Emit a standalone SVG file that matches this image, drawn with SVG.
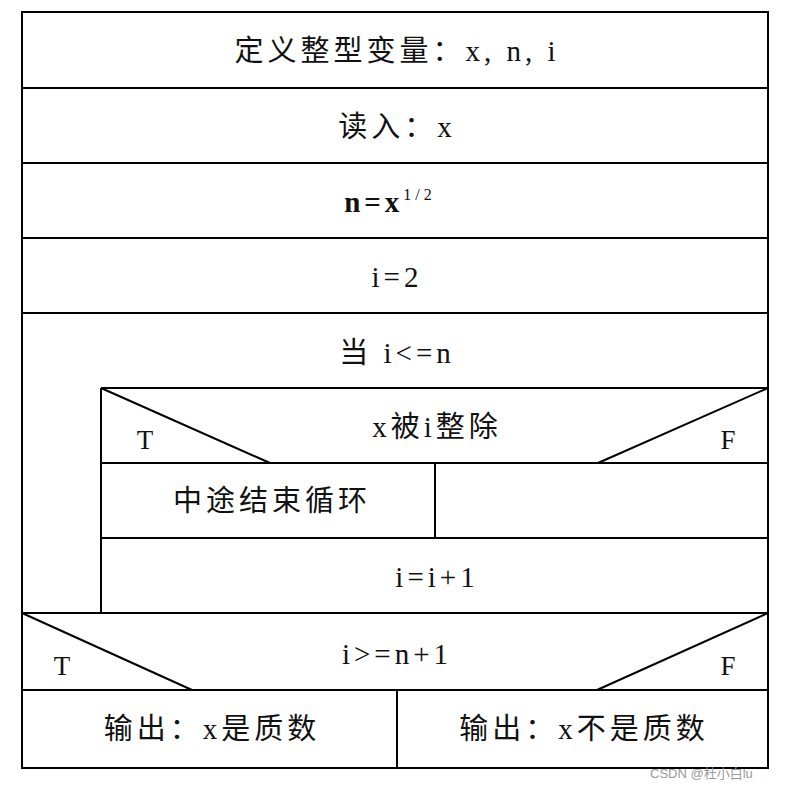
<svg xmlns="http://www.w3.org/2000/svg" width="792" height="788" viewBox="0 0 792 788">
<style>
.l{stroke:#000;stroke-width:2;fill:none}
.t{font-family:"Liberation Serif","Noto Sans CJK SC",serif;font-size:29px;fill:#111;text-anchor:middle;letter-spacing:4px}
.s{font-family:"Liberation Serif",serif;font-size:27px;fill:#111;text-anchor:middle}
</style>
<rect width="792" height="788" fill="#fff"/>
<g id="connectors">
<rect class="l" x="22" y="12" width="746" height="756"/>
<path class="l" d="M22 88H768M22 163H768M22 238H768M22 313H768M101 388H768M101 463H768M101 538H768M22 613H768M22 690H768M101 388V613M435 463V538M397 690V768"/>
<path class="l" d="M101 388L270 463M768 388L598 463M22 613L192 690M768 613L597 690"/>
</g>
<g id="n1"><text class="t" x="397" y="61">定义整型变量：x, n, i</text></g>
<g id="n2"><text class="t" x="397" y="137">读入：x</text></g>
<g id="n3"><text class="t" x="390" y="212" font-weight="bold">n=x<tspan font-size="16" font-weight="normal" dy="-12">1/2</tspan></text></g>
<g id="n4"><text class="t" x="397" y="287">i=2</text></g>
<g id="n5"><text class="t" x="397" y="363">当 i&lt;=n</text></g>
<g id="n6"><text class="t" x="437" y="437">x被i整除</text><text class="s" x="145" y="449">T</text><text class="s" x="728" y="449">F</text></g>
<g id="n7"><text class="t" x="272" y="511">中途结束循环</text></g>
<g id="n8"><text class="t" x="437" y="587">i=i+1</text></g>
<g id="n9"><text class="t" x="397" y="664">i&gt;=n+1</text><text class="s" x="62" y="675">T</text><text class="s" x="728" y="675">F</text></g>
<g id="n10"><text class="t" x="212" y="739">输出：x是质数</text></g>
<g id="n11"><text class="t" x="584" y="739">输出：x不是质数</text></g>
<text x="650" y="778" font-family="Liberation Sans,Noto Sans CJK SC,sans-serif" font-size="13" fill="#999">CSDN @杜小白lu</text>
</svg>
